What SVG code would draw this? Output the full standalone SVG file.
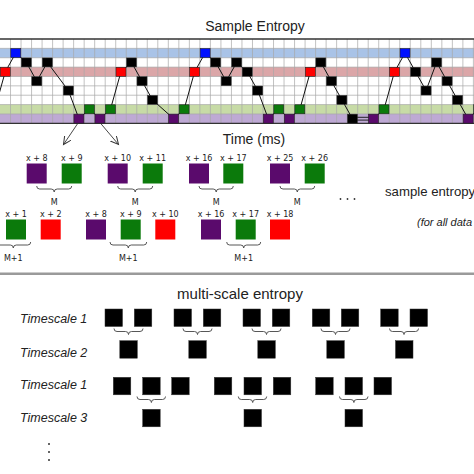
<svg xmlns="http://www.w3.org/2000/svg" width="474" height="474" viewBox="0 0 474 474">
<style>
text{font-family:"Liberation Sans",Arial,sans-serif;fill:#222}
.title{font-size:14px}
.lbl{font-family:"DejaVu Sans",Verdana,sans-serif;font-size:8px;text-anchor:middle;fill:#222}
.ts{font-size:12.5px;font-style:italic}
.grid{stroke:#a8a8a8;stroke-width:0.7}
.bk{fill:#000;stroke:#333;stroke-width:0.5}
.bl{fill:#0010ff;stroke:#222;stroke-width:0.6}
.rd{fill:#ff0000;stroke:#222;stroke-width:0.6}
.gr{fill:#0b7a0b;stroke:#222;stroke-width:0.6}
.pu{fill:#5a0a6c;stroke:#222;stroke-width:0.6}
.mr{stroke:none}
.brace{fill:none;stroke:#444;stroke-width:0.9}
.conn{fill:none;stroke:#111;stroke-width:1}
</style>
<defs>
<marker id="arr" markerWidth="10" markerHeight="10" refX="8" refY="4" orient="auto" markerUnits="userSpaceOnUse">
<path d="M0,0 L8,4 L0,8" fill="none" stroke="#333" stroke-width="1"/>
</marker>
</defs>
<rect width="474" height="474" fill="#fff"/>

<text class="title" x="255" y="30.5" text-anchor="middle">Sample Entropy</text>

<g id="grid">
<rect x="0" y="48.37" width="474" height="9.37" fill="#a9c3e7"/>
<rect x="0" y="67.11" width="474" height="9.37" fill="#dba6a8"/>
<rect x="0" y="104.59" width="474" height="9.37" fill="#c7dba6"/>
<rect x="0" y="113.96" width="474" height="9.37" fill="#bea9d4"/>
<g class="grid">
<line x1="0" y1="48.37" x2="474" y2="48.37"/><line x1="0" y1="57.74" x2="474" y2="57.74"/><line x1="0" y1="67.11" x2="474" y2="67.11"/><line x1="0" y1="76.48" x2="474" y2="76.48"/><line x1="0" y1="85.85" x2="474" y2="85.85"/><line x1="0" y1="95.22" x2="474" y2="95.22"/><line x1="0" y1="104.59" x2="474" y2="104.59"/><line x1="0" y1="113.96" x2="474" y2="113.96"/>
<path d="M10.52,39V123.3M21.04,39V123.3M31.56,39V123.3M42.08,39V123.3M52.6,39V123.3M63.12,39V123.3M73.64,39V123.3M84.16,39V123.3M94.68,39V123.3M105.2,39V123.3M115.72,39V123.3M126.24,39V123.3M136.76,39V123.3M147.28,39V123.3M157.8,39V123.3M168.32,39V123.3M178.84,39V123.3M189.36,39V123.3M199.88,39V123.3M210.4,39V123.3M220.92,39V123.3M231.44,39V123.3M241.96,39V123.3M252.48,39V123.3M263,39V123.3M273.52,39V123.3M284.04,39V123.3M294.56,39V123.3M305.08,39V123.3M315.6,39V123.3M326.12,39V123.3M336.64,39V123.3M347.16,39V123.3M357.68,39V123.3M368.2,39V123.3M378.72,39V123.3M389.24,39V123.3M399.76,39V123.3M410.28,39V123.3M420.8,39V123.3M431.32,39V123.3M441.84,39V123.3M452.36,39V123.3M462.88,39V123.3M473.4,39V123.3"/>
</g>
<line x1="0" y1="39" x2="474" y2="39" stroke="#333" stroke-width="1.3"/>
<line x1="0" y1="123.3" x2="474" y2="123.3" stroke="#333" stroke-width="1.3"/>
</g>

<g id="connectors">
<polyline class="conn" points="-5.26,109.28 5.26,71.8 15.78,53.06 26.30,62.43 36.82,81.17 47.34,62.43 68.38,90.54 78.90,118.65 89.42,109.28 99.94,118.65 110.46,109.28 120.98,71.8 131.50,62.43 142.02,81.17 152.54,99.91 173.58,118.65 184.10,109.28 194.62,71.8 205.14,53.06 215.66,62.43 226.18,81.17 236.70,62.43 247.22,71.8 257.74,90.54 268.26,118.65 278.78,109.28 289.30,118.65 299.82,109.28 310.34,71.8 320.86,62.43 331.38,81.17 341.90,99.91 352.42,118.65"/>
<line x1="357" y1="117.3" x2="369" y2="117.3" stroke="#111" stroke-width="0.9"/>
<line x1="357" y1="120.1" x2="369" y2="120.1" stroke="#111" stroke-width="0.9"/>
<polyline class="conn" points="373.46,118.65 383.98,109.28 394.50,71.8 405.02,53.06 415.54,71.8 426.06,90.54 436.58,62.43 447.10,81.17 457.62,99.91 468.14,118.65 478.66,109.28"/>
<line x1="77.5" y1="123.8" x2="63.5" y2="144.5" stroke="#333" stroke-width="0.9" marker-end="url(#arr)"/>
<line x1="101" y1="123.8" x2="118.5" y2="144.5" stroke="#333" stroke-width="0.9" marker-end="url(#arr)"/>
</g>

<g id="series">
<rect class="rd" x="0.26" y="67.3" width="10" height="9"/>
<rect class="bl" x="10.78" y="48.56" width="10" height="9"/>
<rect class="bk" x="21.30" y="57.93" width="10" height="9"/>
<rect class="bk" x="31.82" y="76.67" width="10" height="9"/>
<rect class="bk" x="42.34" y="57.93" width="10" height="9"/>
<rect class="bk" x="63.38" y="86.04" width="10" height="9"/>
<rect class="pu" x="73.90" y="114.15" width="10" height="9"/>
<rect class="gr" x="84.42" y="104.78" width="10" height="9"/>
<rect class="pu" x="94.94" y="114.15" width="10" height="9"/>
<rect class="gr" x="105.46" y="104.78" width="10" height="9"/>
<rect class="rd" x="115.98" y="67.3" width="10" height="9"/>
<rect class="bk" x="126.50" y="57.93" width="10" height="9"/>
<rect class="bk" x="137.02" y="76.67" width="10" height="9"/>
<rect class="bk" x="147.54" y="95.41" width="10" height="9"/>
<rect class="pu" x="168.58" y="114.15" width="10" height="9"/>
<rect class="gr" x="179.10" y="104.78" width="10" height="9"/>
<rect class="rd" x="189.62" y="67.3" width="10" height="9"/>
<rect class="bl" x="200.14" y="48.56" width="10" height="9"/>
<rect class="bk" x="210.66" y="57.93" width="10" height="9"/>
<rect class="bk" x="221.18" y="76.67" width="10" height="9"/>
<rect class="bk" x="231.70" y="57.93" width="10" height="9"/>
<rect class="bk" x="242.22" y="67.3" width="10" height="9"/>
<rect class="bk" x="252.74" y="86.04" width="10" height="9"/>
<rect class="pu" x="263.26" y="114.15" width="10" height="9"/>
<rect class="gr" x="273.78" y="104.78" width="10" height="9"/>
<rect class="pu" x="284.30" y="114.15" width="10" height="9"/>
<rect class="gr" x="294.82" y="104.78" width="10" height="9"/>
<rect class="rd" x="305.34" y="67.3" width="10" height="9"/>
<rect class="bk" x="315.86" y="57.93" width="10" height="9"/>
<rect class="bk" x="326.38" y="76.67" width="10" height="9"/>
<rect class="bk" x="336.90" y="95.41" width="10" height="9"/>
<rect class="bk" x="347.42" y="114.15" width="10" height="9"/>
<rect class="pu" x="368.46" y="114.15" width="10" height="9"/>
<rect class="gr" x="378.98" y="104.78" width="10" height="9"/>
<rect class="rd" x="389.50" y="67.3" width="10" height="9"/>
<rect class="bl" x="400.02" y="48.56" width="10" height="9"/>
<rect class="bk" x="410.54" y="67.3" width="10" height="9"/>
<rect class="bk" x="421.06" y="86.04" width="10" height="9"/>
<rect class="bk" x="431.58" y="57.93" width="10" height="9"/>
<rect class="bk" x="442.10" y="76.67" width="10" height="9"/>
<rect class="bk" x="452.62" y="95.41" width="10" height="9"/>
<rect class="pu" x="463.14" y="114.15" width="10" height="9"/>
<rect class="gr" x="473.66" y="104.78" width="10" height="9"/>
</g>

<text class="title" x="254" y="143.5" text-anchor="middle">Time (ms)</text>

<g id="m-row">
<rect class="pu mr" x="26.7" y="163.5" width="20" height="20"/><text class="lbl" x="36.7" y="160.5">x + 8</text>
<rect class="gr mr" x="61.7" y="163.5" width="20" height="20"/><text class="lbl" x="71.7" y="160.5">x + 9</text>
<rect class="pu mr" x="107.7" y="163.5" width="20" height="20"/><text class="lbl" x="117.7" y="160.5">x + 10</text>
<rect class="gr mr" x="142.7" y="163.5" width="20" height="20"/><text class="lbl" x="152.7" y="160.5">x + 11</text>
<rect class="pu mr" x="189" y="163.5" width="20" height="20"/><text class="lbl" x="199" y="160.5">x + 16</text>
<rect class="gr mr" x="223.3" y="163.5" width="20" height="20"/><text class="lbl" x="233.3" y="160.5">x + 17</text>
<rect class="pu mr" x="270" y="163.5" width="20" height="20"/><text class="lbl" x="280" y="160.5">x + 25</text>
<rect class="gr mr" x="304.7" y="163.5" width="20" height="20"/><text class="lbl" x="314.7" y="160.5">x + 26</text>
<path class="brace" d="M36.7,186 q0,3 3,3 H51.2 q3,0 3,3 q0,-3 3,-3 H68.7 q3,0 3,-3"/>
<path class="brace" d="M117.7,186 q0,3 3,3 H132.2 q3,0 3,3 q0,-3 3,-3 H149.7 q3,0 3,-3"/>
<path class="brace" d="M199,186 q0,3 3,3 H213.2 q3,0 3,3 q0,-3 3,-3 H230.3 q3,0 3,-3"/>
<path class="brace" d="M280,186 q0,3 3,3 H294.3 q3,0 3,3 q0,-3 3,-3 H311.7 q3,0 3,-3"/>
<text class="lbl" x="54.2" y="205">M</text>
<text class="lbl" x="135.2" y="205">M</text>
<text class="lbl" x="216.2" y="205">M</text>
<text class="lbl" x="297.3" y="205">M</text>
</g>

<g id="dots">
<circle cx="340.5" cy="199" r="0.9" fill="#333"/>
<circle cx="347.5" cy="199" r="0.9" fill="#333"/>
<circle cx="354.5" cy="199" r="0.9" fill="#333"/>
</g>

<text x="385" y="196.3" style="font-size:13.2px">sample entropy</text>
<text x="417" y="225.7" style="font-size:11px;font-style:italic">(for all data</text>

<g id="m1-row">
<rect class="gr mr" x="6" y="219.5" width="20" height="20"/><text class="lbl" x="16" y="217">x + 1</text>
<rect class="rd mr" x="40.7" y="219.5" width="20" height="20"/><text class="lbl" x="50.7" y="217">x + 2</text>
<rect class="pu mr" x="86" y="219.5" width="20" height="20"/><text class="lbl" x="96" y="217">x + 8</text>
<rect class="gr mr" x="120.7" y="219.5" width="20" height="20"/><text class="lbl" x="130.7" y="217">x + 9</text>
<rect class="rd mr" x="155.3" y="219.5" width="20" height="20"/><text class="lbl" x="165.3" y="217">x + 10</text>
<rect class="pu mr" x="201" y="219.5" width="20" height="20"/><text class="lbl" x="211" y="217">x + 16</text>
<rect class="gr mr" x="235.7" y="219.5" width="20" height="20"/><text class="lbl" x="245.7" y="217">x + 17</text>
<rect class="rd mr" x="270" y="219.5" width="20" height="20"/><text class="lbl" x="280" y="217">x + 18</text>
<path class="brace" d="M-4,242 q0,3 3,3 H10.3 q3,0 3,3 q0,-3 3,-3 H27.7 q3,0 3,-3"/>
<path class="brace" d="M110,242 q0,3 3,3 H125.3 q3,0 3,3 q0,-3 3,-3 H143.7 q3,0 3,-3"/>
<path class="brace" d="M226.7,242 q0,3 3,3 H240.7 q3,0 3,3 q0,-3 3,-3 H257.7 q3,0 3,-3"/>
<text class="lbl" x="13.3" y="261">M+1</text>
<text class="lbl" x="128.3" y="261">M+1</text>
<text class="lbl" x="243.7" y="261">M+1</text>
</g>

<line x1="0" y1="273.8" x2="474" y2="273.8" stroke="#9a9a9a" stroke-width="2.5"/>

<text x="240" y="298.5" text-anchor="middle" style="font-size:15px">multi-scale entropy</text>

<g id="multiscale">
<text class="ts" x="20" y="323">Timescale 1</text>
<text class="ts" x="20" y="356.5">Timescale 2</text>
<text class="ts" x="20" y="388.5">Timescale 1</text>
<text class="ts" x="20" y="421.5">Timescale 3</text>
<g class="bk">
<rect x="105" y="309" width="17.5" height="17.5"/><rect x="134.3" y="309" width="17.5" height="17.5"/>
<rect x="174" y="309" width="17.5" height="17.5"/><rect x="203.3" y="309" width="17.5" height="17.5"/>
<rect x="243" y="309" width="17.5" height="17.5"/><rect x="272.3" y="309" width="17.5" height="17.5"/>
<rect x="312.3" y="309" width="17.5" height="17.5"/><rect x="341.3" y="309" width="17.5" height="17.5"/>
<rect x="380.7" y="309" width="17.5" height="17.5"/><rect x="410" y="309" width="17.5" height="17.5"/>
<rect x="119.8" y="340.7" width="17.5" height="17.5"/>
<rect x="188.8" y="340.7" width="17.5" height="17.5"/>
<rect x="257.8" y="340.7" width="17.5" height="17.5"/>
<rect x="326.8" y="340.7" width="17.5" height="17.5"/>
<rect x="395.5" y="340.7" width="17.5" height="17.5"/>
<rect x="113.3" y="377.3" width="17.5" height="17.5"/><rect x="142.7" y="377.3" width="17.5" height="17.5"/><rect x="171.7" y="377.3" width="17.5" height="17.5"/>
<rect x="214.3" y="377.3" width="17.5" height="17.5"/><rect x="244" y="377.3" width="17.5" height="17.5"/><rect x="273.3" y="377.3" width="17.5" height="17.5"/>
<rect x="315.7" y="377.3" width="17.5" height="17.5"/><rect x="345" y="377.3" width="17.5" height="17.5"/><rect x="374" y="377.3" width="17.5" height="17.5"/>
<rect x="142.7" y="409.3" width="17.5" height="17.5"/>
<rect x="244" y="409.3" width="17.5" height="17.5"/>
<rect x="345" y="409.3" width="17.5" height="17.5"/>
</g>
<path class="brace" d="M114,328.5 q0,3 3,3 H125.5 q3,0 3,3 q0,-3 3,-3 H140 q3,0 3,-3"/>
<path class="brace" d="M183,328.5 q0,3 3,3 H194.5 q3,0 3,3 q0,-3 3,-3 H209 q3,0 3,-3"/>
<path class="brace" d="M252,328.5 q0,3 3,3 H263.5 q3,0 3,3 q0,-3 3,-3 H278 q3,0 3,-3"/>
<path class="brace" d="M321,328.5 q0,3 3,3 H332.5 q3,0 3,3 q0,-3 3,-3 H347 q3,0 3,-3"/>
<path class="brace" d="M389.5,328.5 q0,3 3,3 H401 q3,0 3,3 q0,-3 3,-3 H415.5 q3,0 3,-3"/>
<path class="brace" d="M137,396.5 q0,3 3,3 H148.4 q3,0 3,3 q0,-3 3,-3 H162.5 q3,0 3,-3"/>
<path class="brace" d="M238.3,396.5 q0,3 3,3 H249.7 q3,0 3,3 q0,-3 3,-3 H263.7 q3,0 3,-3"/>
<path class="brace" d="M339.5,396.5 q0,3 3,3 H350.9 q3,0 3,3 q0,-3 3,-3 H365 q3,0 3,-3"/>
<circle cx="49" cy="444" r="1" fill="#333"/>
<circle cx="49" cy="452" r="1" fill="#333"/>
<circle cx="49" cy="460" r="1" fill="#333"/>
</g>
</svg>
